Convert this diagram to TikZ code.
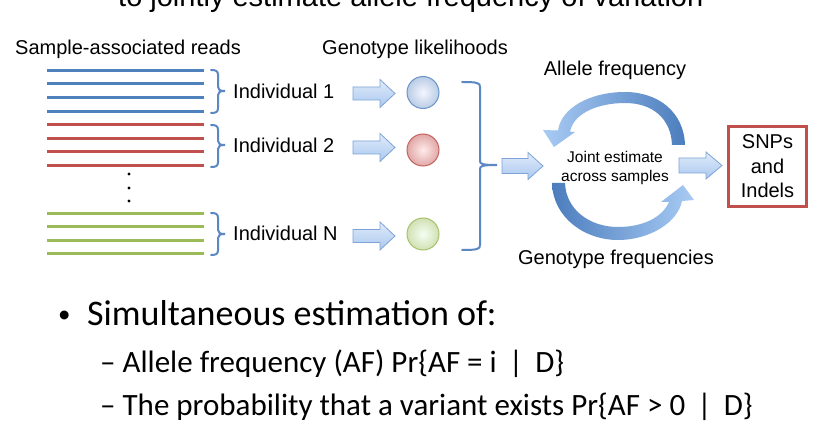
\documentclass[tikz,border=0pt]{standalone}
\usepackage{fontspec}
\setmainfont{Liberation Sans}
\newfontfamily\calib{Carlito}
\definecolor{readblue}{HTML}{4F81BD}
\definecolor{readred}{HTML}{C0504D}
\definecolor{readgreen}{HTML}{9BBB59}
\definecolor{braceblue}{HTML}{5B87C2}
\definecolor{arrowedge}{HTML}{7EA3D6}
\definecolor{arrowtop}{HTML}{E1ECFA}
\definecolor{arrowbot}{HTML}{A9C7EF}
\definecolor{curvelight}{HTML}{A8CBF4}
\definecolor{curvedark}{HTML}{4C7DBD}
\definecolor{boxred}{HTML}{C0504D}
\newcommand\cbrace[6]{\draw[brc] (#1,#4) .. controls ({#2-2},#4) and (#2,{#4+1}) .. (#2,{#4+5}) -- (#2,{#5-4}) .. controls (#2,{#5-1}) and ({#2+2},#5) .. (#3,#5) .. controls ({#2+2},#5) and (#2,{#5+1}) .. (#2,{#5+4}) -- (#2,{#6-5}) .. controls (#2,{#6-1}) and ({#2-2},#6) .. (#1,#6);}
\newcommand\barr[6]{\draw[barrow] (#1,{#3-#6}) -- ({#2-#4},{#3-#6}) -- ({#2-#4},{#3-#5}) -- (#2,#3) -- ({#2-#4},{#3+#5}) -- ({#2-#4},{#3+#6}) -- (#1,{#3+#6}) -- cycle;}
\begin{document}
\begin{tikzpicture}[x=1pt,y=-1pt,font=\fontsize{20}{24}\selectfont,
  txt/.style={inner sep=0pt,anchor=base west},
  reads/.style={line width=3pt},
  brc/.style={draw=braceblue,line width=2pt,line cap=round},
  barrow/.style={draw=arrowedge,line width=0.8pt,top color=arrowtop,bottom color=arrowbot},
  gl/.style={circle,minimum size=32pt,inner sep=0pt,line width=1pt},
  bul/.style={inner sep=0pt,anchor=base west,font=\calib\fontsize{36}{40}\selectfont},
  subbul/.style={inner sep=0pt,anchor=base west,font=\calib\fontsize{31}{36}\selectfont}]
\useasboundingbox (0,0) rectangle (819,430);
\clip (0,0) rectangle (819,430);
\fill[white] (0,0) rectangle (819,430);

% title (cut off at top, as in the reference)
\node[txt,font=\fontsize{29}{30}\selectfont] (title) at (118,7) {to jointly estimate allele frequency of variation};

% headings
\node[txt] (hreads) at (15,55) {Sample-associated reads};
\node[txt] (hgl) at (322,55) {Genotype likelihoods};

% reads
\foreach \y in {70.7,84,97.7,111.7} \draw[reads,readblue] (47,\y) -- (204,\y);
\foreach \y in {125,138.5,152,165.5} \draw[reads,readred] (47,\y) -- (204,\y);
\foreach \y in {214,227,241,254} \draw[reads,readgreen] (47,\y) -- (204,\y);
\foreach \y in {174,188,201} \fill (129,\y) circle (1.6pt);

% braces
\cbrace{211}{218}{225}{70}{91}{113}
\cbrace{211}{218}{225}{125}{145}{167}
\cbrace{211}{218}{225}{213}{234}{255}
\cbrace{462}{480}{497}{82}{165}{250}

% individual labels
\node[txt] (ind1) at (233,99) {Individual 1};
\node[txt] (ind2) at (233,153) {Individual 2};
\node[txt] (indN) at (233,241) {Individual N};

% block arrows
\barr{353}{395}{93.5}{15}{14}{6.5}
\barr{353}{395}{147.5}{15}{14}{6.5}
\barr{353}{395}{236}{15}{14}{6.5}
\barr{502}{543}{166}{15}{13.5}{7.5}
\barr{679}{722}{165.5}{16}{13.5}{7.5}

% genotype likelihood circles
\node[gl,draw=readblue!85,inner color=blue!4!white,outer color=readblue!40] (g1) at (423,92.5) {};
\node[gl,draw=readred!90,inner color=red!8!white,outer color=readred!50] (g2) at (423,150) {};
\node[gl,draw=readgreen!90,inner color=green!5!white,outer color=readgreen!45] (gN) at (423,234) {};

% curved arrows
\shade[left color=curvelight,right color=curvedark]
  (685,145) .. controls (684,112) and (658,92) .. (625,92)
  .. controls (590,92) and (561,108) .. (558,130.5)
  -- (543,130) -- (554,147) -- (575,132) -- (570,131.7)
  .. controls (574,112) and (600,103) .. (625,103)
  .. controls (652,103) and (671,118) .. (672,145) -- cycle;
\shade[left color=curvedark,right color=curvelight]
  (552,183) .. controls (553,218) and (585,240) .. (618,240)
  .. controls (650,240) and (678,222) .. (682,201)
  -- (694,200) -- (683,185) -- (661,202) -- (669,202)
  .. controls (662,218) and (642,227) .. (618,227)
  .. controls (590,227) and (566,210) .. (565,183) -- cycle;

\node[txt,anchor=base] (af) at (615,76) {Allele frequency};
\node[txt,anchor=base] (gf) at (616,265) {Genotype frequencies};
\node[align=center,inner sep=0pt,font=\fontsize{15.5}{19}\selectfont] (joint) at (615,168) {Joint estimate\\across samples};

% output box
\node[draw=boxred,line width=3pt,minimum width=78pt,minimum height=80pt,align=center,inner sep=0pt,font=\fontsize{20}{24.5}\selectfont] (out) at (767.5,166.5) {SNPs\\and\\Indels};

% bullets
\node[inner sep=0pt,anchor=base west,font=\calib\fontsize{25}{30}\selectfont] (b1) at (58,322) {•};
\node[bul] (l1) at (87,325) {Simultaneous estimation of:};
\node[subbul] (l2) at (100,372) {– Allele frequency (AF) Pr\{AF = i \,|\, D\}};
\node[subbul] (l3) at (100,415) {– The probability that a variant exists Pr\{AF > 0 \,|\, D\}};
\end{tikzpicture}
\end{document}
